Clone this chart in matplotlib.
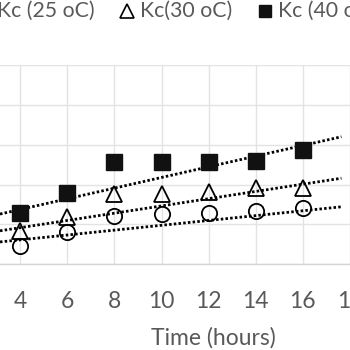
"""Kc over time at three temperatures, with linear trend lines."""

import matplotlib.pyplot as plt
import numpy as np

plt.rcParams["font.family"] = ["Lato", "DejaVu Sans"]

TEXT_COLOR = "#595959"

# sampling times (hours)
hours = [4, 6, 8, 10, 12, 14, 16]

# Kc at each temperature
kc_25 = [0.23, 0.41, 0.61, 0.63, 0.64, 0.67, 0.71]
kc_30 = [0.42, 0.59, 0.88, 0.88, 0.91, 0.96, 0.96]
kc_40 = [0.64, 0.89, 1.28, 1.28, 1.28, 1.30, 1.43]

# linear trend lines (slope per hour, intercept)
trend_slope = [0.0304, 0.0455, 0.0669]
trend_intercept = [0.185, 0.277, 0.42]

series_labels = ["Kc (25 oC)", "Kc(30 oC)", "Kc (40 oC)"]
x_ticks = [4, 6, 8, 10, 12, 14, 16, 18]
y_grid = [0, 0.5, 1.0, 1.5, 2.0, 2.5]

fig = plt.figure(figsize=(3.5, 3.5), dpi=100)
ax = fig.add_axes([0, 0.2449, 1, 0.5694])
ax.set_xlim(3.143, 17.636)
ax.set_ylim(0, 2.5)

# trend lines across the whole axis
x_line = np.array(ax.get_xlim())
for slope, icpt in zip(trend_slope, trend_intercept):
    ax.plot(x_line, slope * x_line + icpt, color="black", lw=2,
            dashes=(0.9, 0.8), zorder=2, solid_capstyle="butt")

ax.plot(hours, kc_25, ls="none", marker="o", ms=11, mfc="none",
        mec="black", mew=1.3, zorder=3)
ax.plot(hours, kc_30, ls="none", marker="^", ms=12, mfc="none",
        mec="black", mew=1.3, zorder=3)
ax.plot(hours, kc_40, ls="none", marker="s", ms=11.5, mfc="#111111",
        mec="#111111", zorder=3)

ax.set_xticks(x_ticks)
ax.set_xticklabels([str(t) for t in x_ticks])
ax.set_yticks(y_grid)
ax.set_yticklabels([])
ax.grid(True, color="#e3e3e3", lw=1)
ax.set_axisbelow(True)
ax.tick_params(axis="both", length=0)
ax.tick_params(axis="x", pad=19, labelsize=16.5, labelcolor=TEXT_COLOR)
for side in ["top", "left", "right"]:
    ax.spines[side].set_visible(False)
ax.spines["bottom"].set_color("#d4d4d4")
ax.spines["bottom"].set_linewidth(1)

ax.set_xlabel("Time (hours)", fontsize=16.5, color=TEXT_COLOR)
ax.xaxis.set_label_coords(0.609, -0.37)
ax.xaxis.label.set_va("center")

# legend row along the top
leg_y = 1 - 11 / 350
leg_size = 15.3
fig.text(-3 / 350, leg_y, series_labels[0], fontsize=leg_size,
         color=TEXT_COLOR, va="center", ha="left")
fig.lines.append(plt.Line2D([127 / 350], [leg_y], transform=fig.transFigure,
                            marker="^", ms=10, mfc="none", mec="black", mew=1.2))
fig.text(140 / 350, leg_y, series_labels[1], fontsize=leg_size,
         color=TEXT_COLOR, va="center", ha="left")
fig.lines.append(plt.Line2D([265 / 350], [leg_y], transform=fig.transFigure,
                            marker="s", ms=9, mfc="#111111", mec="#111111"))
fig.text(278 / 350, leg_y, series_labels[2], fontsize=leg_size,
         color=TEXT_COLOR, va="center", ha="left")

fig.savefig("out.png", dpi=100)
